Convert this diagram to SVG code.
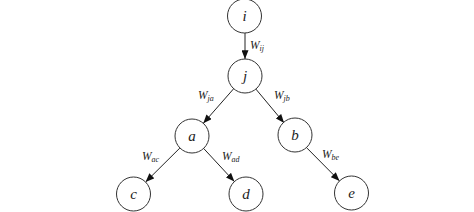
<svg xmlns="http://www.w3.org/2000/svg" width="474" height="212" viewBox="0 0 474 212">
<style>
.n{fill:#fff;stroke:#333;stroke-width:1}
.t{font-family:"Liberation Serif",serif;font-style:italic;font-size:15px;fill:#222;text-anchor:middle}
.w{font-family:"Liberation Serif",serif;font-style:italic;font-size:11.5px;fill:#222}
.s{font-size:8px}
.e{stroke:#222;stroke-width:1;fill:none;marker-end:url(#ah)}
</style>
<defs>
<marker id="ah" viewBox="0 0 10 8" refX="10" refY="4" markerWidth="9" markerHeight="7" markerUnits="userSpaceOnUse" orient="auto">
<path d="M0,0 L10,4 L0,8 Z" fill="#111"/>
</marker>
</defs>
<rect width="474" height="212" fill="#fff"/>
<g id="edges">
<line class="e" x1="245" y1="33" x2="245" y2="59"/>
<line class="e" x1="233.7" y1="88.7" x2="203.3" y2="123.3"/>
<line class="e" x1="255.9" y1="89.1" x2="284.1" y2="122.9"/>
<line class="e" x1="179.9" y1="148" x2="145.6" y2="182"/>
<line class="e" x1="203.6" y1="148.4" x2="234.4" y2="181.6"/>
<line class="e" x1="307" y1="148.1" x2="339.5" y2="180.9"/>
<text class="w" x="250" y="49">W<tspan class="s" dy="2">ij</tspan></text>
<text class="w" x="198" y="99">W<tspan class="s" dy="2">ja</tspan></text>
<text class="w" x="274" y="99">W<tspan class="s" dy="2">jb</tspan></text>
<text class="w" x="142" y="160">W<tspan class="s" dy="2">ac</tspan></text>
<text class="w" x="222" y="160">W<tspan class="s" dy="2">ad</tspan></text>
<text class="w" x="322" y="158">W<tspan class="s" dy="2">be</tspan></text>
</g>
<g id="node-i"><circle class="n" cx="244.5" cy="16" r="17"/><text class="t" x="244.5" y="21">i</text></g>
<g id="node-j"><circle class="n" cx="245" cy="76" r="17"/><text class="t" x="245" y="81">j</text></g>
<g id="node-a"><circle class="n" cx="192" cy="136" r="17"/><text class="t" x="192" y="141">a</text></g>
<g id="node-b"><circle class="n" cx="295" cy="135" r="17"/><text class="t" x="295" y="140">b</text></g>
<g id="node-c"><circle class="n" cx="133.5" cy="194" r="17"/><text class="t" x="133.5" y="199">c</text></g>
<g id="node-d"><circle class="n" cx="246" cy="194" r="17"/><text class="t" x="246" y="199">d</text></g>
<g id="node-e"><circle class="n" cx="351.5" cy="193" r="17"/><text class="t" x="351.5" y="198">e</text></g>
</svg>
